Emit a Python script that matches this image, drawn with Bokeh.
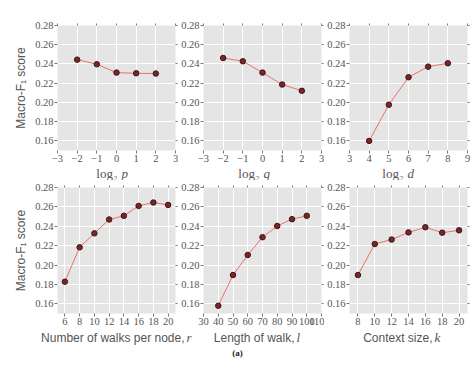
from bokeh.plotting import figure
from bokeh.layouts import column, row
from bokeh.models import Range1d, FixedTicker, LinearAxis, CustomLabelingPolicy
from bokeh.core.properties import value
from bokeh.embed import file_html
from bokeh.resources import INLINE

# ---- data ----
p_x = [-2, -1, 0, 1, 2]
p_y = [0.2445, 0.2397, 0.2310, 0.2303, 0.2300]
q_x = [-2, -1, 0, 1, 2]
q_y = [0.2462, 0.2428, 0.2310, 0.2186, 0.2121]
d_x = [4, 5, 6, 7, 8]
d_y = [0.1600, 0.1976, 0.2262, 0.2372, 0.2407]
r_x = [6, 8, 10, 12, 14, 16, 18, 20]
r_y = [0.1828, 0.2183, 0.2327, 0.2470, 0.2508, 0.2610, 0.2645, 0.2620]
l_x = [40, 50, 60, 70, 80, 90, 100]
l_y = [0.1580, 0.1897, 0.2104, 0.2287, 0.2403, 0.2473, 0.2508]
k_x = [8, 10, 12, 14, 16, 18, 20]
k_y = [0.1897, 0.2217, 0.2263, 0.2337, 0.2390, 0.2334, 0.2358]

y_ticks = [0.16, 0.18, 0.20, 0.22, 0.24, 0.26, 0.28]
y_tick_labels = ["0.16", "0.18", "0.20", "0.22", "0.24", "0.26", "0.28"]
log_ticks = [-3, -2, -1, 0, 1, 2, 3]
d_ticks = [3, 4, 5, 6, 7, 8, 9]
r_ticks = [6, 8, 10, 12, 14, 16, 18, 20]
l_ticks = [30, 40, 50, 60, 70, 80, 90, 100, 110]
k_ticks = [8, 10, 12, 14, 16, 18, 20]

y_label = "Macro-F\u2081 score"
top_label_main = ["log\u2082", "log\u2082", "log\u2082"]
top_label_var = ["p", "q", "d"]
bot_label_main = ["Number of walks per node,", "Length of walk,", "Context size,"]
bot_label_var = ["r", "l", "k"]
caption = "(a)"

SERIF = "Liberation Serif"
SANS = "Liberation Sans"
GRAY = "#555555"
W = 473

HIDE_ALL = "for (const i of indices) { indices.unset(i) }\nreturn indices"


def panel(xs, ys, xr, ticks, ylabel, bl, br, bt, bb, fh):
    p = figure(frame_width=118, frame_height=fh, output_backend="svg",
               toolbar_location=None,
               x_range=Range1d(*xr), y_range=Range1d(0.15, 0.28),
               min_border_left=bl, min_border_right=br,
               min_border_top=bt, min_border_bottom=bb)
    p.background_fill_color = "#E5E5E5"
    p.border_fill_color = "white"
    p.outline_line_color = None
    p.grid.grid_line_color = "white"
    p.grid.grid_line_width = 1
    p.add_layout(LinearAxis(), "above")
    p.add_layout(LinearAxis(), "right")
    for ax in p.xaxis:
        ax.ticker = FixedTicker(ticks=ticks)
        ax.major_label_overrides = {t: str(t).replace("-", "\u2212") for t in ticks}
    for ax in p.yaxis:
        ax.ticker = FixedTicker(ticks=y_ticks)
        ax.major_label_overrides = dict(zip(y_ticks, y_tick_labels))
    for ax in list(p.xaxis) + list(p.yaxis):
        ax.axis_line_color = None
        ax.major_tick_line_color = "#777777"
        ax.major_tick_in = 0
        ax.major_tick_out = 3
        ax.minor_tick_line_color = None
        ax.major_label_text_font = SERIF
        ax.major_label_text_font_size = "10.5px"
        ax.major_label_text_color = GRAY
        ax.major_label_standoff = 1
    for ax in (p.above[0], p.right[0]):
        ax.major_label_policy = CustomLabelingPolicy(code=HIDE_ALL)
        ax.major_label_text_font_size = "0px"
        ax.major_label_standoff = 0
        ax.major_tick_out = 2
    if ylabel:
        p.yaxis[0].axis_label = ylabel
        p.yaxis[0].axis_label_text_font = SANS
        p.yaxis[0].axis_label_text_font_style = "normal"
        p.yaxis[0].axis_label_text_font_size = "12px"
        p.yaxis[0].axis_label_text_color = GRAY
        p.yaxis[0].axis_label_standoff = 4
    p.line(xs, ys, line_color="#E5746B", line_width=1)
    p.scatter(xs, ys, size=5.5, fill_color="#7B2626", line_color="#3D1414", line_width=1)
    return p


def strip(h, centers, mains, vars_, main_font, main_size, main_gap, var_gap):
    s = figure(width=W, height=h, output_backend="svg", toolbar_location=None,
               x_range=Range1d(0, W), y_range=Range1d(0, h), min_border=0)
    s.axis.visible = False
    s.grid.visible = False
    s.outline_line_color = None
    mx = [c + g for c, g in zip(centers, main_gap)]
    vx = [c + g for c, g in zip(centers, var_gap)]
    s.text(x=mx, y=[h / 2] * 3, text=mains, text_font=value(main_font),
           text_font_size=main_size, text_color=GRAY, text_align="right",
           text_baseline="middle")
    s.text(x=vx, y=[h / 2] * 3, text=vars_, text_font=value(SERIF),
           text_font_size="13px", text_font_style="italic", text_color=GRAY,
           text_align="left", text_baseline="middle")
    return s


p1 = panel(p_x, p_y, (-3, 3), log_ticks, y_label, 57, 3, 25, 16, 125)
p2 = panel(q_x, q_y, (-3, 3), log_ticks, None, 21, 3, 25, 16, 125)
p3 = panel(d_x, d_y, (3, 9), d_ticks, None, 23, 12, 25, 16, 125)
p4 = panel(r_x, r_y, (5, 21), r_ticks, y_label, 57, 3, 7, 16, 126)
p5 = panel(l_x, l_y, (30, 110), l_ticks, None, 21, 3, 7, 16, 126)
p6 = panel(k_x, k_y, (7, 21), k_ticks, None, 23, 12, 7, 16, 126)

centers = [116, 258, 402]
s1 = strip(14, centers, top_label_main, top_label_var, SERIF, "13px",
           [1, 1, 1], [5, 5, 5])
s2 = strip(16, centers, bot_label_main, bot_label_var, SANS, "12px",
           [68, 36, 30], [70, 38, 32])

cap = figure(width=W, height=14, output_backend="svg", toolbar_location=None,
             x_range=Range1d(0, W), y_range=Range1d(0, 14), min_border=0)
cap.axis.visible = False
cap.grid.visible = False
cap.outline_line_color = None
cap.text(x=[237], y=[7], text=[caption], text_font=value(SERIF),
         text_font_size="9px", text_font_style="bold", text_color="#222222",
         text_align="center", text_baseline="middle")

layout = column(row(p1, p2, p3), s1, row(p4, p5, p6), s2, cap)
open("out.html", "w").write(file_html(layout, INLINE))
